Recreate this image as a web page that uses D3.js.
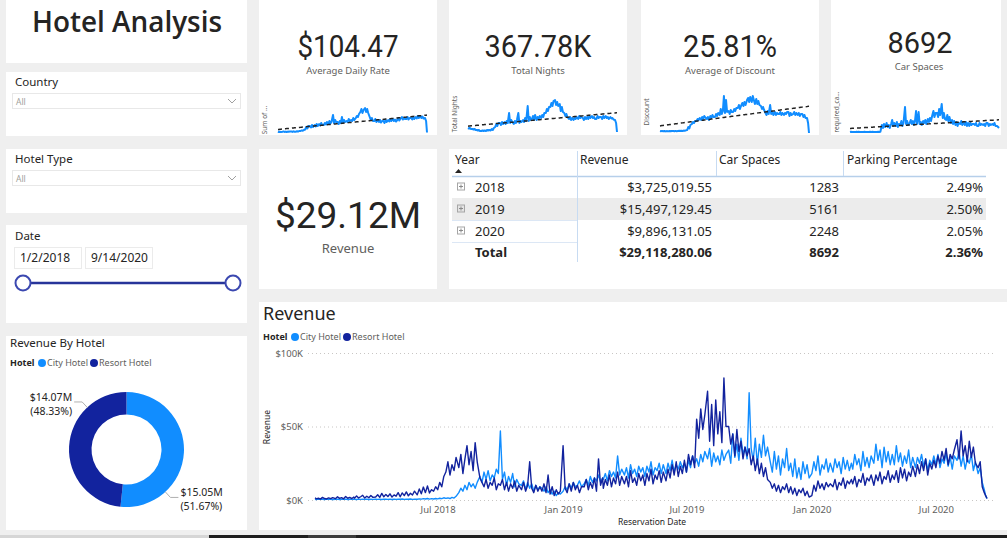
<!DOCTYPE html>
<html>
<head>
<meta charset="utf-8">
<script src="https://cdn.jsdelivr.net/npm/d3@7"></script>
<style>
body { margin: 0; background: #efefef; }
text { font-family: "Segoe UI", "Noto Sans", sans-serif; }
.kpi { font-family: "DIN", "Roboto", sans-serif; }
.title { font-family: "Segoe UI Semibold", "Open Sans", sans-serif; }
</style>
</head>
<body>
<svg id="dash" width="1007" height="538"></svg>
<script>
// ---- data ----
var kpiValues = ["$104.47", "367.78K", "25.81%", "8692"];
var kpiLabels = ["Average Daily Rate", "Total Nights", "Average of Discount", "Car Spaces"];
var kpiAxisTitles = ["Sum of ...", "Total Nights", "Discount", "required_ca..."];

var years = ["2018", "2019", "2020"];
var yearRevenue = [3725019.55, 15497129.45, 9896131.05];
var yearCarSpaces = [1283, 5161, 2248];
var yearParking = [0.0249, 0.0250, 0.0205];
var totalRevenue = 29118280.06, totalCarSpaces = 8692, totalParking = 0.0236;

var hotels = ["City Hotel", "Resort Hotel"];
var hotelRevenue = [15046000, 14072280];

// sampled revenue ($K), 10 readings a month (every 3 days), Jan 2018 .. Sep 2020
var cityRevenue = [
  .5,.3,.6,.4,.5,.3,.6,.4,.5,.3,   .4,.6,.3,.5,.4,.6,.3,.5,.4,.6,   .5,.3,.6,.4,.5,.4,.6,.3,.5,.4,
  .6,.4,.5,.3,.6,.5,.4,.6,.3,.5,   .4,.6,.5,.7,.4,.6,.5,.7,.4,.6,   .5,.8,.6,.9,.7,1.0,.6,.9,.7,1.0,
  .8,1.2,.9,1.5,1.1,1.4,1.0,1.8,1.3,2.5,   5,8,6,10,7,12,9,11,8,12,   16,12,19,14,20,13,17,15,21,18,
  47,14,19,10,16,12,18,9,14,11,   10,13,7,12,8,11,6,10,7,9,   8,6,9,5,7,4,6,3,5,4,
  6,9,7,11,8,12,9,10,13,9,   11,14,10,16,12,15,13,17,12,15,   14,18,13,20,16,19,15,30,17,21,
  17,22,15,24,18,21,16,23,19,22,   16,23,19,26,17,22,20,25,18,24,   18,25,20,27,19,24,21,26,22,25,
  19,27,22,30,25,28,23,31,26,33,   28,35,23,32,26,30,24,34,27,31,   34,25,45,29,38,27,42,31,36,28,
  73,35,27,42,24,38,29,44,30,36,   26,19,33,21,30,17,28,22,35,20,   25,16,28,15,22,14,26,18,24,15,
  18,26,20,30,17,24,21,28,19,25,   19,28,22,26,18,29,21,27,20,25,   21,31,24,28,20,33,23,29,22,30,
  25,38,27,34,22,36,26,33,24,31,   24,37,26,32,23,30,25,34,22,29,   22,29,25,31,23,28,20,27,24,30,
  24,31,22,28,25,32,23,29,21,30,   27,33,23,30,21,28,25,31,20,26,   18,22,12,7,3,1
];
var resortRevenue = [
  1.5,.8,1.2,.6,1.8,1.0,.7,1.4,.9,1.6,   .9,2.2,1.1,1.6,.8,2.4,1.2,1.8,1.0,2.0,   1.2,2.8,1.4,2.2,3.2,1.3,2.6,1.5,3.0,1.8,
  2.0,3.6,1.8,4.5,2.2,3.8,2.4,4.2,2.0,3.5,   2.6,5.0,2.2,4.8,3.0,5.5,2.8,4.6,3.4,6.0,   3.5,7.5,4.2,8.8,5.0,9.5,4.8,7.0,6.0,9.0,
  7,12,9,16,19,26,17,24,20,29,   22,31,18,28,37,24,33,20,39,26,   15,12,9,14,8,12,10,15,7,11,
  10,14,7,12,6,11,8,13,6,10,   7,12,6,10,26,8,5,10,6,9,   6,11,5,17,4,9,3,7,4,6,
  37,8,5,11,6,12,7,10,5,9,   9,14,7,12,8,15,6,28,10,15,   8,14,10,17,9,15,11,19,10,16,
  11,16,9,20,12,15,10,18,13,17,   10,18,13,21,11,17,14,20,12,19,   13,21,15,24,17,26,16,23,18,27,
  19,31,24,30,22,55,42,62,48,58,   74,40,65,37,68,45,60,39,83,50,   50,38,45,30,48,33,40,28,36,30,
  35,24,30,20,28,18,25,16,22,14,   12,8,11,6,10,5,9,7,11,5,   9,4,8,3,7,5,8,3,6,2,
  3,10,6,13,8,11,7,12,9,11,   9,14,7,12,10,15,8,13,11,14,   11,16,9,14,12,18,10,15,13,17,
  10,17,13,19,11,16,14,20,12,17,   14,20,12,22,15,21,13,19,16,23,   16,24,18,26,20,28,17,25,21,27,
  22,30,25,33,27,35,24,31,28,34,   41,28,47,30,37,26,40,29,36,25,   22,26,9,5,3,1
];

// sparkline readings, 4 a month (relative units)
var sparkAdr = [
  1.5,1,1.3,.9, 1.2,1.6,1,1.4, 1,1.4,1.2,1.6, 1.5,1.1,1.7,1.2, 1.3,1.8,1.4,2, 2,2.6,2.2,3,
  3.5,6,4.5,7, 7,5.5,8,6, 8,6.5,9,7, 9,7.5,10,8, 8,10,8.5,11, 9,12,9.5,11,
  18,10,13,11, 11,9,12,10, 16,10.5,13,11, 12,11,14,12, 13,12,15,13, 15,17,16,19,
  21,24,20,23, 25,21,24,20, 16,13,15,12, 12,14,11,13, 11,13,10.5,12, 12,10,13,11,
  13,11.5,14,12, 14,12,13.5,11.5, 13,15,12.5,14, 16,13.5,15,14, 14,16,13.5,15, 15,13.5,16,14,
  16,14.5,17,15, 17,15,16.5,14.5, 15,12,.5
];
var sparkNights = [
  5,4.5,5,4, 4,3.5,4,3, 3,2.5,3,2, 2,2.5,2,2.5, 2,3,2.5,3, 2.5,4,3,5,
  6,9,7,10, 10,8,11,9, 11,9,12,10, 20,10,13,11, 9,12,10,13, 20,10,12,11,
  13,11,15,12, 27,12,16,13, 14,17,13,18, 13,16,14,17, 15,18,16,20, 20,24,22,26,
  26,30,27,32, 33,28,31,27, 29,22,26,21, 20,17,19,16, 14,16,13,15, 13,15,14,16,
  14,17,15,16, 15,13,16,14, 16,14,17,15, 17,15,16,14, 14,17,15,16, 16,14,17,15,
  17,15,16,14, 16,14.5,15,13.5, 13,10,1
];
var sparkDiscount = [
  2,1.8,2.1,1.7, 2,1.6,1.9,1.7, 1.8,2,1.7,2.1, 2,1.7,2.1,1.8, 1.9,2.2,2,2.3, 2,2.4,2.2,2.6,
  3,6,4.5,8, 9,11,10,12, 12,14,13,15, 13,16,14,17, 15,14,16,13, 17,15,18,16,
  16,19,17,20, 18,24,19,22, 37,20,33,21, 22,19,23,21, 21,24,22,25, 25,28,24,27,
  30,27,31,28, 33,35,31,36, 31,37,33,29, 34,29,32,28, 27,24,26,23, 20,18,22,19,
  28,19,21,18, 21,18,20,19, 19,21,18,20, 18,20,19,21, 21,17,20,18, 19,21,18,20,
  18,20,17,19, 19,16,18,15, 15,10,0
];
var sparkCars = [
  1,1.2,1,1.1, 1,1.1,1.2,1, 1.2,1,1.1,1, 1,1.2,1,1.1, 1.1,1,1.2,1, 1.2,1,1.1,1,
  1,1.3,1.1,1.2, 8,5,9,6, 10,6,8,5, 9,13,7,10, 7,11,6,9, 8,12,7,10,
  26,9,12,8, 10,13,9,12, 8,12,22,9, 21,9,11,8, 12,10,13,9, 14,11,15,12,
  18,22,16,20, 20,16,24,18, 29,15,20,14, 13,18,12,16, 10,13,9,12, 8,11,7,10,
  9,12,8,11, 8,11,7,10, 7,10,8,9, 9,8,10,7, 7,10,8,9, 8,9,7,10,
  10,7,9,8, 9,8,10,7, 7,6,5
];
var sparkSeries = [sparkAdr, sparkNights, sparkDiscount, sparkCars];

var cityColor = "#118DFF", resortColor = "#12239E";
var dark = "#252423", grey = "#605E5C";

// ---- dates for the samples ----
var months = d3.timeMonth.range(new Date(2018, 0, 1), new Date(2020, 8, 2));
function sampleDates(offsets, lastOffsets) {
  var out = [];
  months.forEach(function(m, i) {
    var offs = i === months.length - 1 ? lastOffsets : offsets;
    offs.forEach(function(d, k) {
      if (i === 0 && k === 0) d = 2;
      out.push(new Date(m.getFullYear(), m.getMonth(), d));
    });
  });
  return out;
}
var lineDates = sampleDates([1, 4, 7, 10, 13, 16, 19, 22, 25, 28], [1, 4, 7, 10, 12, 14]);
var sparkDates = sampleDates([1, 8, 15, 22], [1, 8, 14]);
var startDate = new Date(2018, 0, 2), endDate = new Date(2020, 8, 14);

var svg = d3.select('#dash');

function panel(x, y, w, h) {
  svg.append('rect').attr('x', x).attr('y', y).attr('width', w).attr('height', h).attr('fill', '#fff');
}
function label(x, y, txt, size, color, anchor, weight) {
  return svg.append('text').attr('x', x).attr('y', y).text(txt)
    .attr('font-size', size).attr('fill', color || dark)
    .attr('text-anchor', anchor || 'start').attr('font-weight', weight || 400);
}

// ---- panels ----
[[6,0,241,63],[6,72,241,64],[6,149,241,64],[6,225,241,98],[6,336,241,194],
 [259,0,178,135],[449,0,178,135],[641,0,178,135],[831,0,170,135],
 [259,149,178,140],[449,149,558,140],[259,302,748,228]].forEach(function(p) { panel(p[0], p[1], p[2], p[3]); });

// bottom strip
svg.append('rect').attr('x', 0).attr('y', 535).attr('width', 209).attr('height', 3).attr('fill', '#d6d6d6');
svg.append('rect').attr('x', 209).attr('y', 535).attr('width', 798).attr('height', 3).attr('fill', '#1f1f1f');
svg.append('rect').attr('x', 308).attr('y', 535).attr('width', 48).attr('height', 3).attr('fill', '#3c3c3c');

// ---- left column ----
label(127, 32, "Hotel Analysis", 28, dark, 'middle', 600).attr('class', 'title')
  .attr('textLength', 190).attr('lengthAdjust', 'spacingAndGlyphs');

function dropdown(y, title) {
  label(15, y + 14, title, 11.5, dark);
  svg.append('rect').attr('x', 12.5).attr('y', y + 21.5).attr('width', 228).attr('height', 15)
    .attr('fill', 'none').attr('stroke', '#e8e8e8');
  label(16, y + 33, "All", 8.5, '#a19f9d');
  svg.append('path').attr('d', 'M228,' + (y + 27) + 'l4,4l4,-4').attr('fill', 'none').attr('stroke', '#a0a0a0');
}
dropdown(72, "Country");
dropdown(149, "Hotel Type");

label(15, 240, "Date", 11.5, dark);
svg.append('rect').attr('x', 14.5).attr('y', 247.5).attr('width', 67).attr('height', 21).attr('fill', 'none').attr('stroke', '#ebebeb');
svg.append('rect').attr('x', 85.5).attr('y', 247.5).attr('width', 67).attr('height', 21).attr('fill', 'none').attr('stroke', '#ebebeb');
label(20, 262, d3.timeFormat("%-m/%-d/%Y")(startDate), 12, dark);
label(91, 262, d3.timeFormat("%-m/%-d/%Y")(endDate), 12, dark);
svg.append('line').attr('x1', 23).attr('x2', 233).attr('y1', 283).attr('y2', 283).attr('stroke', '#27349a').attr('stroke-width', 2.5);
[23, 233].forEach(function(cx) {
  svg.append('circle').attr('cx', cx).attr('cy', 283).attr('r', 7.5).attr('fill', '#fff').attr('stroke', '#3b48b0').attr('stroke-width', 2);
});

// ---- donut ----
label(10, 347, "Revenue By Hotel", 11.5, dark);
function legend(x, y) {
  label(x, y + 3, "Hotel", 9, dark, 'start', 700);
  svg.append('circle').attr('cx', x + 32).attr('cy', y).attr('r', 4).attr('fill', cityColor);
  label(x + 37, y + 3, hotels[0], 9, grey);
  svg.append('circle').attr('cx', x + 84).attr('cy', y).attr('r', 4).attr('fill', resortColor);
  label(x + 89, y + 3, hotels[1], 9, grey);
}
legend(10, 363);

var cx = 126.5, cy = 449.5, rOut = 57.5, rIn = 35;
var pie = d3.pie().sort(null)(hotelRevenue);
var arc = d3.arc().innerRadius(rIn).outerRadius(rOut);
var donut = svg.append('g').attr('transform', 'translate(' + cx + ',' + cy + ')');
donut.selectAll('path').data(pie).enter().append('path')
  .attr('d', arc).attr('fill', function(d, i) { return i === 0 ? cityColor : resortColor; });

var fmtM = function(v) { return "$" + d3.format(".2f")(v / 1e6) + "M"; };
var fmtP = d3.format(".2%");
var totalHotel = d3.sum(hotelRevenue);
// leader lines: angle on the ring and side of the label
var leaders = [{ a: 137.5 * Math.PI / 180, side: 1 }, { a: 317 * Math.PI / 180, side: -1 }];
leaders.forEach(function(l, i) {
  var px = cx + rOut * Math.sin(l.a), py = cy - rOut * Math.cos(l.a);
  var ex = cx + 65 * Math.sin(l.a), ey = cy - 65 * Math.cos(l.a);
  var hx = ex + l.side * 8;
  svg.append('path').attr('d', 'M' + px + ',' + py + 'L' + ex + ',' + ey + 'L' + hx + ',' + ey)
    .attr('fill', 'none').attr('stroke', '#b0b0b0');
  var tx = hx + l.side * 2, anchor = l.side > 0 ? 'start' : 'end';
  label(tx, ey - 1, fmtM(hotelRevenue[i]), 10.5, dark, anchor);
  label(tx, ey + 13, "(" + fmtP(hotelRevenue[i] / totalHotel) + ")", 10.5, dark, anchor);
});

// ---- KPI cards ----
var cardX = [259, 449, 641, 831];
var kpiCenter = [348, 538, 730, 920];
var kpiBase = [57, 57, 57, 53], kpiSize = [32, 32, 32, 29], kpiWidth = [101, 107, 94, 65];
var kpiLabelY = [74, 74, 74, 70];
var sparkTop = 95, sparkBottom = 133;
var sy = d3.scaleLinear().domain([0, 38]).range([sparkBottom, sparkTop]);
var axisTitleY = [120, 114, 112, 112];

function trend(vals) {
  var xs = d3.range(vals.length), mx = d3.mean(xs), my = d3.mean(vals);
  var b = d3.sum(xs, function(x, i) { return (x - mx) * (vals[i] - my); }) / d3.sum(xs, function(x) { return (x - mx) * (x - mx); });
  var a = my - b * mx;
  return xs.map(function(x) { return a + b * x; });
}

kpiValues.forEach(function(v, i) {
  label(kpiCenter[i], kpiBase[i], v, kpiSize[i], dark, 'middle').attr('class', 'kpi')
    .attr('textLength', kpiWidth[i]).attr('lengthAdjust', 'spacingAndGlyphs');
  label(kpiCenter[i] - (i === 3 ? 1 : 0), kpiLabelY[i], kpiLabels[i], 9.5, grey, 'middle');

  var left = cardX[i] + 19, right = left + 149;
  var sx = d3.scaleTime().domain([startDate, endDate]).range([left, right]);
  var line = d3.line().x(function(d, k) { return sx(sparkDates[k]); }).y(function(d) { return sy(d); });
  svg.append('path').datum(sparkSeries[i]).attr('d', line)
    .attr('fill', 'none').attr('stroke', cityColor).attr('stroke-width', 2).attr('stroke-linejoin', 'round');
  svg.append('path').datum(trend(sparkSeries[i])).attr('d', line)
    .attr('fill', 'none').attr('stroke', '#222').attr('stroke-width', 1.5).attr('stroke-dasharray', '4,3');
  svg.append('text').attr('transform', 'translate(' + (cardX[i] + 8) + ',' + axisTitleY[i] + ') rotate(-90)')
    .attr('text-anchor', 'middle').attr('font-size', 6.5).attr('fill', grey).text(kpiAxisTitles[i]);
});

// ---- revenue card ----
label(348, 228, fmtM(totalRevenue), 37, dark, 'middle').attr('class', 'kpi')
  .attr('textLength', 146).attr('lengthAdjust', 'spacingAndGlyphs');
label(348, 253, "Revenue", 13, grey, 'middle');

// ---- table ----
var fmtMoney = d3.format("$,.2f");
svg.append('rect').attr('x', 452).attr('y', 198).attr('width', 534).attr('height', 22).attr('fill', '#ececec');
var sepColor = "#c7dbf2";
svg.append('line').attr('x1', 452).attr('x2', 986).attr('y1', 176.5).attr('y2', 176.5).attr('stroke', '#b6cfea').attr('stroke-width', 1.5);
[220.5, 242.5].forEach(function(y) {
  svg.append('line').attr('x1', 452).attr('x2', 577).attr('y1', y).attr('y2', y).attr('stroke', '#dce7f5');
});
svg.append('line').attr('x1', 577.5).attr('x2', 577.5).attr('y1', 151).attr('y2', 262).attr('stroke', sepColor);
[716.5, 843.5].forEach(function(x) {
  svg.append('line').attr('x1', x).attr('x2', x).attr('y1', 151).attr('y2', 176).attr('stroke', sepColor);
});
label(455, 164, "Year", 12, dark);
svg.append('path').attr('d', 'M455,173L458.5,169L462,173Z').attr('fill', dark);
label(580, 164, "Revenue", 12, dark);
label(719, 164, "Car Spaces", 12, dark);
label(847, 164, "Parking Percentage", 12, dark);

var rowY = [191.5, 213.5, 235.5];
years.forEach(function(yr, i) {
  var y = rowY[i];
  svg.append('rect').attr('x', 457.5).attr('y', y - 8.5).attr('width', 7).attr('height', 7)
    .attr('fill', i === 1 ? '#e4e4e4' : '#fff').attr('stroke', '#a6a6a6');
  svg.append('path').attr('d', 'M459,' + (y - 5) + 'h4M461,' + (y - 7) + 'v4').attr('stroke', '#8a8a8a');
  label(475, y, yr, 13, dark);
  label(712, y, fmtMoney(yearRevenue[i]), 13, dark, 'end');
  label(839, y, yearCarSpaces[i], 13, dark, 'end');
  label(983, y, d3.format(".2%")(yearParking[i]), 13, dark, 'end');
});
label(475, 256.5, "Total", 13, dark, 'start', 700);
label(712, 256.5, fmtMoney(totalRevenue), 13, dark, 'end', 700);
label(839, 256.5, totalCarSpaces, 13, dark, 'end', 700);
label(983, 256.5, d3.format(".2%")(totalParking), 13, dark, 'end', 700);

// ---- revenue line chart ----
label(263, 320, "Revenue", 18, dark);
legend(263, 337);

var x = d3.scaleTime().domain([startDate, endDate]).range([315, 987]);
var y = d3.scaleLinear().domain([0, 100]).range([500, 353]);

svg.append('g').selectAll('line').data(y.ticks(2)).enter().append('line')
  .attr('x1', 308).attr('x2', 993).attr('y1', function(d) { return y(d) + 0.5; }).attr('y2', function(d) { return y(d) + 0.5; })
  .attr('stroke', '#c8c6c4').attr('stroke-dasharray', '1,3');

var yAxis = svg.append('g').attr('transform', 'translate(303,0)')
  .call(d3.axisLeft(y).ticks(2).tickSize(0).tickPadding(0).tickFormat(function(d) { return "$" + d + "K"; }));
var xAxis = svg.append('g').attr('transform', 'translate(0,503)')
  .call(d3.axisBottom(x).ticks(d3.timeMonth.every(6)).tickSize(0).tickPadding(3).tickFormat(d3.timeFormat("%b %Y")));
[yAxis, xAxis].forEach(function(g) {
  g.select('.domain').remove();
  g.selectAll('text').attr('fill', grey).attr('font-size', 9.5).attr('font-family', '"Segoe UI","Noto Sans",sans-serif');
});

svg.append('text').attr('transform', 'translate(270,427) rotate(-90)').attr('text-anchor', 'middle')
  .attr('font-size', 8.5).attr('fill', dark).text("Revenue");
label(652, 525, "Reservation Date", 8.5, dark, 'middle');

var revLine = d3.line().x(function(d, k) { return x(lineDates[k]); }).y(function(d) { return y(d); });
svg.append('path').datum(cityRevenue).attr('d', revLine)
  .attr('fill', 'none').attr('stroke', cityColor).attr('stroke-width', 1.4).attr('stroke-linejoin', 'round');
svg.append('path').datum(resortRevenue).attr('d', revLine)
  .attr('fill', 'none').attr('stroke', resortColor).attr('stroke-width', 1.4).attr('stroke-linejoin', 'round');
</script>
</body>
</html>
